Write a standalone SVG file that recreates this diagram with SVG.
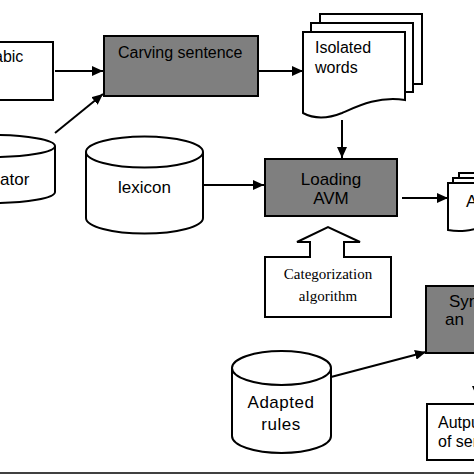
<svg xmlns="http://www.w3.org/2000/svg" width="474" height="474" viewBox="0 0 474 474">
<defs>
<marker id="ah" markerUnits="userSpaceOnUse" markerWidth="12" markerHeight="10" refX="11" refY="5" orient="auto">
<path d="M0,0 L11,5 L0,10 Z" fill="#000"/>
</marker>
<style>
.s{stroke:#000;stroke-width:2;fill:#fff}
.g{stroke:#000;stroke-width:2;fill:#7f7f7f}
.t{font-family:"Liberation Sans",Arial,sans-serif;font-size:16px;fill:#000}
.tm{font-family:"Liberation Serif","Times New Roman",serif;font-size:15px;fill:#000}
.c{stroke:#000;stroke-width:2;fill:none;marker-end:url(#ah)}
</style>
</defs>
<rect x="0" y="0" width="474" height="474" fill="#fff"/>

<g id="arabic">
<rect class="s" x="-20" y="42" width="73" height="58"/>
<text class="t" x="-6" y="62">abic</text>
</g>

<g id="translator">
<path class="s" d="M-71,146 V192 A63,11 0 0 0 55,192 V146"/>
<ellipse class="s" cx="-8" cy="146" rx="63" ry="11"/>
<text class="t" x="0" y="185" style="font-size:17px">ator</text>
</g>

<g id="carving">
<rect class="g" x="104" y="36" width="154" height="60"/>
<text class="t" x="118" y="58">Carving sentence</text>
</g>

<g id="isolated">
<rect class="s" x="320" y="14" width="102" height="70"/>
<rect class="s" x="311" y="23" width="102" height="69"/>
<path class="s" d="M303,32 H405 V100 C378,96 358,106 342,113 C327,119 314,119 303,113 Z"/>
<text class="t" x="315" y="53">Isolated</text>
<text class="t" x="315" y="73">words</text>
</g>

<g id="lexicon">
<path class="s" d="M86,152 V218 A58.5,15.5 0 0 0 203,218 V152"/>
<ellipse class="s" cx="144.5" cy="152" rx="58.5" ry="15.5"/>
<text class="t" x="144.5" y="193" text-anchor="middle" style="font-size:17px">lexicon</text>
</g>

<g id="loading">
<rect class="g" x="265" y="159" width="132" height="57"/>
<text class="t" x="331" y="185" text-anchor="middle" style="font-size:17px">Loading</text>
<text class="t" x="331" y="204" text-anchor="middle" style="font-size:17px">AVM</text>
</g>

<g id="avmout">
<rect class="s" x="459" y="173" width="40" height="50"/>
<rect class="s" x="453" y="178" width="40" height="50"/>
<path class="s" d="M448,183 H495 V225 C480,226 468,234 448,230 Z"/>
<text class="t" x="466" y="207" style="font-size:17px">A</text>
</g>

<g id="categorization">
<path class="s" d="M265,257 H310 V242 H297 L328,227 L360,242 H344 V257 H391 V317 H265 Z"/>
<text class="tm" x="328" y="279" text-anchor="middle">Categorization</text>
<text class="tm" x="328" y="301" text-anchor="middle">algorithm</text>
</g>

<g id="synthesis">
<rect class="g" x="426" y="286" width="60" height="67"/>
<text class="t" x="449" y="307" style="font-size:17px">Syn</text>
<text class="t" x="445" y="325" style="font-size:17px">an</text>
</g>

<g id="adapted">
<path class="s" d="M232,368 V436 A49.5,17 0 0 0 331,436 V368"/>
<ellipse class="s" cx="281.5" cy="368" rx="49.5" ry="17"/>
<text class="t" x="281" y="408" text-anchor="middle" style="font-size:17px;letter-spacing:0.5px">Adapted</text>
<text class="t" x="281" y="430" text-anchor="middle" style="font-size:17px;letter-spacing:0.5px">rules</text>
</g>

<g id="output">
<rect class="s" x="427" y="404" width="60" height="56"/>
<text class="t" x="438" y="428">Autpu</text>
<text class="t" x="438" y="447">of sen</text>
</g>

<g id="connectors">
<line class="c" x1="55" y1="71" x2="103" y2="71"/>
<line class="c" x1="55" y1="133" x2="103" y2="94"/>
<line class="c" x1="258" y1="71" x2="303" y2="71"/>
<line class="c" x1="342" y1="120" x2="342" y2="158"/>
<line class="c" x1="203" y1="185" x2="264" y2="185"/>
<line class="c" x1="402" y1="198" x2="448" y2="198"/>
<line class="c" x1="331" y1="377" x2="426" y2="352"/>
<line class="c" x1="477" y1="356" x2="477" y2="397"/>
</g>

<rect x="0" y="472" width="474" height="2" fill="#404040"/>
</svg>
